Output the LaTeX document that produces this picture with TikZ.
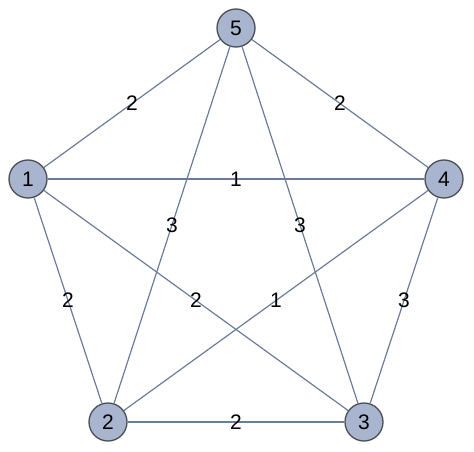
\documentclass[tikz,border=0pt]{standalone}
\usepackage{fontspec}
\setmainfont{Liberation Sans}
\definecolor{nodefill}{HTML}{A9B5CE}
\definecolor{nodeline}{HTML}{4A4E56}
\definecolor{edgecol}{HTML}{6A7C9C}
\begin{document}
\begin{tikzpicture}[x=1pt,y=-1pt,
  vert/.style={circle,draw=nodeline,fill=nodefill,line width=1.3pt,minimum size=38pt,inner sep=0pt,font=\fontsize{21}{25}\selectfont},
  edge/.style={draw=edgecol,line width=1.2pt},
  wlab/.style={font=\fontsize{21}{25}\selectfont,inner sep=0pt}]
\useasboundingbox (0,0) rectangle (474,452);
\node[vert] (n5) at (236,28) {5};
\node[vert] (n1) at (28,179) {1};
\node[vert] (n4) at (444,179) {4};
\node[vert] (n2) at (108,422) {2};
\node[vert] (n3) at (364,422) {3};
\path[edge] (n1) -- node[wlab]{2} (n5);
\path[edge] (n5) -- node[wlab]{2} (n4);
\path[edge] (n1) -- node[wlab]{1} (n4);
\path[edge] (n5) -- node[wlab]{3} (n2);
\path[edge] (n5) -- node[wlab]{3} (n3);
\path[edge] (n1) -- node[wlab]{2} (n2);
\path[edge] (n1) -- node[wlab]{2} (n3);
\path[edge] (n4) -- node[wlab]{1} (n2);
\path[edge] (n4) -- node[wlab]{3} (n3);
\path[edge] (n2) -- node[wlab]{2} (n3);
\end{tikzpicture}
\end{document}
